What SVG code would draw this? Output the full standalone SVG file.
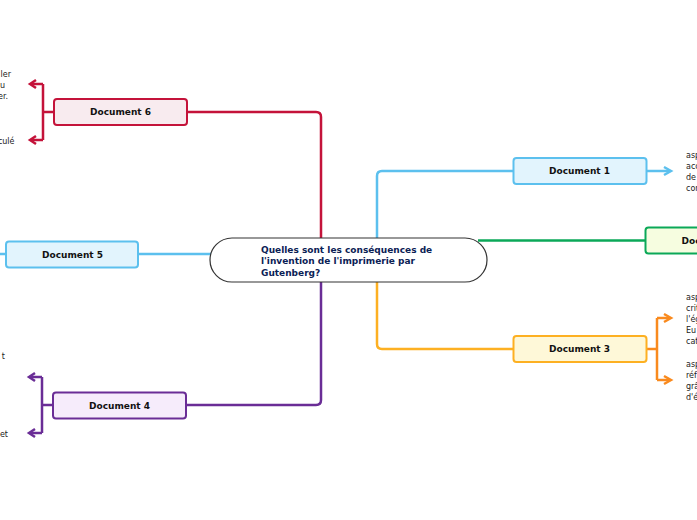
<svg xmlns="http://www.w3.org/2000/svg" width="697" height="520" viewBox="0 0 697 520">
<style>
.b{stroke-width:2;}
.c{fill:none;stroke-width:2.5;}
.a{fill:none;stroke-width:2.5;}
.l{font-family:"DejaVu Sans",sans-serif;font-weight:700;font-size:9px;fill:#111;text-anchor:middle;}
.t{font-family:"DejaVu Sans",sans-serif;font-size:8px;fill:#222;}
.e{text-anchor:end;}
.m{font-family:"DejaVu Sans",sans-serif;font-weight:700;font-size:9px;fill:#0b2155;}
</style>
<rect width="697" height="520" fill="#fff"/>
<g id="connectors">
<path class="c" stroke="#c4133a" d="M187 112H316Q321 112 321 117V240"/>
<path class="c" stroke="#5cc0ee" d="M377 240V176Q377 171 382 171H514"/>
<path class="c" stroke="#5cc0ee" d="M138 254H212M0 254H6"/>
<path class="c" stroke="#0ba858" d="M478 240.500H646"/>
<path class="c" stroke="#6a2d96" d="M321 281V400Q321 405 316 405H186"/>
<path class="c" stroke="#fdb022" d="M377 281V344Q377 349 382 349H514"/>
<path class="c" stroke="#c4133a" d="M54 112H43M43 84V140M43 84H31M43 140H31"/>
<path class="a" stroke="#c4133a" d="M36 80L30 84L36 88M36 136L30 140L36 144"/>
<path class="c" stroke="#6a2d96" d="M53 405H42M42 377V433M42 377H30M42 433H30"/>
<path class="a" stroke="#6a2d96" d="M35 373L29 377L35 381M35 429L29 433L35 437"/>
<path class="c" stroke="#5cc0ee" d="M646 171H670"/>
<path class="a" stroke="#5cc0ee" d="M664 167L671 171L664 175"/>
<path class="c" stroke="#f98a1e" d="M646 349H657M657 318V380M657 318H670M657 380H670"/>
<path class="a" stroke="#f98a1e" d="M664 314L671 318L664 322M664 376L671 380L664 384"/>
</g>
<g id="center"><rect x="210" y="238" width="277" height="44" rx="22" fill="#fff" stroke="#333" stroke-width="1.200"/>
<text class="m"><tspan x="261" y="253">Quelles sont les conséquences de</tspan><tspan x="261" y="264">l'invention de l'imprimerie par</tspan><tspan x="261" y="275.500">Gutenberg?</tspan></text></g>
<g id="doc6"><rect class="b" x="54" y="99" width="133" height="26" rx="3" fill="#f8ebef" stroke="#c4133a"/><text class="l" x="120.500" y="115">Document 6</text></g>
<g id="doc1"><rect class="b" x="513.500" y="158" width="133" height="26" rx="3" fill="#e2f4fd" stroke="#5cc0ee"/><text class="l" x="579.500" y="174">Document 1</text></g>
<g id="doc5"><rect class="b" x="6" y="241.500" width="132" height="26" rx="3" fill="#e2f4fd" stroke="#5cc0ee"/><text class="l" x="72.500" y="257.500">Document 5</text></g>
<g id="doc2"><rect class="b" x="645.500" y="227.500" width="133" height="26" rx="3" fill="#f6fde0" stroke="#0ba858"/><text class="l" x="712" y="243.500">Document 2</text></g>
<g id="doc4"><rect class="b" x="53" y="392.500" width="133" height="26" rx="3" fill="#f6ecfb" stroke="#6a2d96"/><text class="l" x="119.500" y="408.500">Document 4</text></g>
<g id="doc3"><rect class="b" x="513.500" y="336" width="133" height="26" rx="3" fill="#fef8d8" stroke="#fdb022"/><text class="l" x="579.500" y="352">Document 3</text></g>
<g id="notes">
<text class="t e"><tspan x="11" y="77">ler</tspan><tspan x="5" y="88">u</tspan><tspan x="8" y="99">er.</tspan><tspan x="14.500" y="144">culé</tspan><tspan x="5" y="359">t</tspan><tspan x="8" y="437">et</tspan></text>
<text class="t"><tspan x="686" y="158">asp</tspan><tspan x="686" y="169">acc</tspan><tspan x="686" y="180">de</tspan><tspan x="686" y="191">cor</tspan></text>
<text class="t"><tspan x="686" y="300">asp</tspan><tspan x="686" y="311">crit</tspan><tspan x="686" y="322">l'ég</tspan><tspan x="686" y="333">Eu</tspan><tspan x="686" y="344">cat</tspan><tspan x="686" y="367">asp</tspan><tspan x="686" y="378">réf</tspan><tspan x="686" y="389">grâ</tspan><tspan x="686" y="400">d'é</tspan></text>
</g>
</svg>
